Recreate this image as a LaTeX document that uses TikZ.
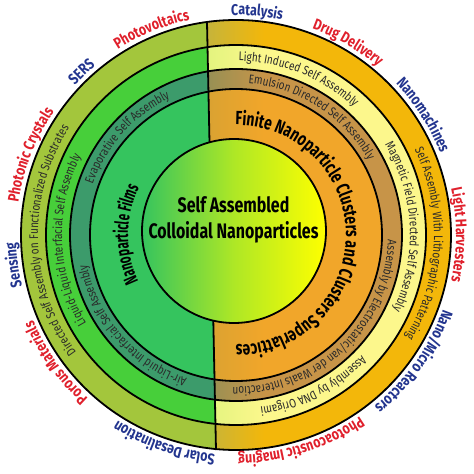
\documentclass[tikz,border=0pt]{standalone}
\usepackage{fontspec}
\setmainfont{Fira Sans}
\newfontfamily\schmalfont{Fira Sans}[FakeStretch=0.8]
\newfontfamily\engfont{Fira Sans}[FakeStretch=0.6]
\newfontfamily\titelfont{Fira Sans}[FakeStretch=0.76]
\newfontfamily\clusterfont{Fira Sans}[FakeStretch=0.73]
\usetikzlibrary{decorations.text}

\definecolor{rot}{HTML}{E0202C}
\definecolor{blau}{HTML}{23358F}
\definecolor{gruenAussen}{HTML}{A3C63C}
\definecolor{gruenHell}{HTML}{47CF3A}
\definecolor{tuerkis}{HTML}{3C9B6B}
\definecolor{gruenFilm}{HTML}{35C45E}
\definecolor{gelbAussen}{HTML}{F3B70A}
\definecolor{gelbHell}{HTML}{FCF78C}
\definecolor{braun}{HTML}{C79448}
\definecolor{orangeKern}{HTML}{F1A62A}
\definecolor{randAussen}{HTML}{C4B43C}
\definecolor{randHell}{HTML}{E2F47E}
\definecolor{randBraun}{HTML}{959055}
\definecolor{randKern}{HTML}{D9A232}
\definecolor{schrift}{HTML}{2A2A2A}

% Text auf Kreisbogen (im Uhrzeigersinn): Radius, Winkel, halbe Spanne, Schrift, Farbe, Text
\newcommand{\bogentext}[6]{%
  {#4\path[decorate, decoration={text along path, text align=center,
      text={|\color{#5}|#6}}]
    (#2+#3:#1) arc[start angle=#2+#3, end angle=#2-#3, radius=#1];}}
% Anwendungen aussen
\newcommand{\aussentext}[3]{\bogentext{220}{#2}{60}{\schmalfont\bfseries\fontsize{15.5}{18}\selectfont}{#3}{#1}}
% Methoden in den Ringen
\newcommand{\ringtext}[3]{\bogentext{#2}{#3}{100}{\schmalfont\fontsize{12.5}{14}\selectfont}{schrift}{#1}}

\begin{document}
\begin{tikzpicture}[x=1pt, y=1pt,
    ring/.style={draw=black, line width=1.8pt},
    trenner/.style={draw=black, line width=1.8pt}]
    \useasboundingbox[fill=white] (-236,-239) rectangle (238,235);

    % Trennlinie zwischen Filmen und Clustern
    \coordinate (trennObenAussen) at (-29,213);
    \coordinate (trennObenInnen) at (-26.5,92.5);
    \coordinate (trennUntenInnen) at (-22.7,-85.9);
    \coordinate (trennUntenAussen) at (-20,-215);

    % linke Haelfte (gruen)
    \begin{scope}
        \clip (-300,300) -- (-30.8,300) -- (-18.2,-300) -- (-300,-300) -- cycle;
        \fill[gruenAussen] (0,0) circle[radius=215];
        \fill[gruenHell] (0,0) circle[radius=190];
        \fill[tuerkis] (0,0) circle[radius=166];
        \fill[gruenFilm] (0,0) circle[radius=146];
    \end{scope}
    % rechte Haelfte (gelb/orange), an der Trennlinie leicht verlaufend
    \begin{scope}
        \clip (300,300) -- (-30.8,300) -- (-18.2,-300) -- (300,-300) -- cycle;
        \foreach \ra/\farbe/\rand in {215/gelbAussen/randAussen, 190/gelbHell/randHell,
                166/braun/randBraun, 146/orangeKern/randKern}
        {
            \fill[\farbe] (0,0) circle[radius=\ra];
            \begin{scope}
                \clip (0,0) circle[radius=\ra];
                \shade[left color=\rand, right color=\farbe] (-31,-230) rectangle (28,230);
            \end{scope}
        }
    \end{scope}

    % Ringe
    \foreach \r in {215,190,166,146}
        \draw[ring] (0,0) circle[radius=\r];
    \draw[trenner] (trennObenAussen) -- (trennObenInnen);
    \draw[trenner] (trennUntenInnen) -- (trennUntenAussen);

    % Kreis in der Mitte
    \shade[left color=gruenFilm, right color=yellow, middle color=yellow!60!gruenFilm]
        (-2,4) circle[radius=92];
    \draw[ring] (-2,4) circle[radius=92];
    \node[align=center, font=\titelfont\bfseries\fontsize{21}{26}\selectfont] (titel)
        at (-2.5,15) {Self Assembled\\Colloidal Nanoparticles};

    % Anwendungen aussen herum
    \foreach \winkel/\farbe/\anwendung in {84.6/blau/Catalysis, 59.8/rot/Drug Delivery,
            32.6/blau/Nanomachines, 0/rot/Light Harvesters,
            -35.4/blau/{Nano/Micro Reactors}, -72.6/rot/Photoacoustic Imaging,
            -109/blau/Solar Desalination, -144.7/rot/Porous Materials,
            -172.3/blau/Sensing, 158.7/rot/Photonic Crystals,
            133.4/blau/SERS, 112.3/rot/Photovoltaics}
        {\expandafter\aussentext\expandafter{\anwendung}{\winkel}{\farbe}}

    % Methoden in den Ringen
    \foreach \radius/\winkel/\methode in {198/181.8/Directed Self Assembly on Functionalized Substrates,
            198/-2.8/Self Assembly With Lithographic Patterning,
            174/181.8/Liquid-Liquid Interfacial Self Assembly,
            174/68.2/Light Induced Self Assembly,
            174/2.9/Magnetic Field Directed Self Assembly,
            174/-62.9/Assembly by DNA Origami,
            152/138.1/Evaporative Self Assembly,
            152/221.2/Air-Liquid Interfacial Self Assembly,
            152/57.4/Emulsion Directed Self Assembly,
            152/-46.6/{Assembly by Electrostatic/van der Waals Interaction}}
        {\expandafter\ringtext\expandafter{\methode}{\radius}{\winkel}}

    % Filme und Cluster
    \bogentext{108}{179.5}{100}{\engfont\bfseries\fontsize{19}{21}\selectfont}{black}{Nanoparticle Films}
    \bogentext{110}{0.1}{115}{\clusterfont\bfseries\fontsize{19}{21}\selectfont}{black}{Finite Nanoparticle Clusters and Clusters Superlattices}
\end{tikzpicture}
\end{document}
